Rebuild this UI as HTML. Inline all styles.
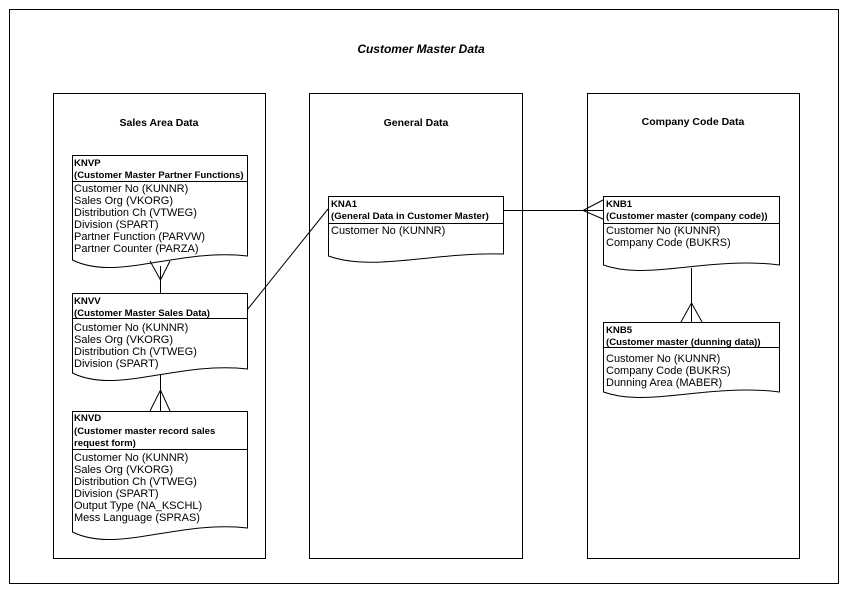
<!DOCTYPE html>
<html><head><meta charset="utf-8"><style>
body{margin:0;background:#fff}
svg text{font-family:"Liberation Sans",Arial,sans-serif;font-size:11px;fill:#000}
.b{font-weight:bold;font-size:9.6px}
.h{font-weight:bold;font-size:10.5px}
</style></head><body>
<svg width="848" height="590" viewBox="0 0 848 590" xmlns="http://www.w3.org/2000/svg">
<g fill="none" stroke="#000" stroke-width="1">
<rect x="9.5" y="9.5" width="829" height="574"/>
<rect x="53.5" y="93.5" width="212" height="465"/>
<rect x="309.5" y="93.5" width="213" height="465"/>
<rect x="587.5" y="93.5" width="212" height="465"/>
<rect x="72.5" y="155.5" width="175" height="26"/>
<path d="M72.5,181.5 V260 C117,282 177,248 247.5,256 V181.5"/>
<rect x="72.5" y="293.5" width="175" height="25"/>
<path d="M72.5,318.5 V373 C117,395 177,361 247.5,369 V318.5"/>
<rect x="72.5" y="411.5" width="175" height="38"/>
<path d="M72.5,449.5 V532 C117,554 177,520 247.5,528 V449.5"/>
<rect x="328.5" y="196.5" width="175" height="27"/>
<path d="M328.5,223.5 V256 C373,272 433,252 503.5,254 V223.5"/>
<rect x="603.5" y="196.5" width="176" height="27"/>
<path d="M603.5,223.5 V265 C648,281 708,256 779.5,265 V223.5"/>
<rect x="603.5" y="322.5" width="176" height="25"/>
<path d="M603.5,347.5 V392 C648,408 708,383 779.5,392 V347.5"/>
<path d="M160.5,266 V293 M150,261 L160.5,280 L170,261"/>
<path d="M160.5,375 V411 M150,411 L160.5,390 L170,411"/>
<path d="M247,310 L328,209"/>
<path d="M503.5,210.5 H603 M603,200 L583,210.5 L603,219"/>
<path d="M691.5,268 V322 M681,322 L691.5,303 L702,322"/>
</g>
<text x="421" y="53" text-anchor="middle" style="font-style:italic;font-weight:bold;font-size:12px">Customer Master Data</text>
<text x="159" y="126" text-anchor="middle" class="h">Sales Area Data</text>
<text x="416" y="126" text-anchor="middle" class="h">General Data</text>
<text x="693" y="125" text-anchor="middle" class="h">Company Code Data</text>

<text x="74" y="166" class="b">KNVP</text>
<text x="74" y="178" class="b">(Customer Master Partner Functions)</text>
<text x="74" y="192">Customer No (KUNNR)</text>
<text x="74" y="204">Sales Org (VKORG)</text>
<text x="74" y="216">Distribution Ch (VTWEG)</text>
<text x="74" y="228">Division (SPART)</text>
<text x="74" y="240">Partner Function (PARVW)</text>
<text x="74" y="252">Partner Counter (PARZA)</text>

<text x="74" y="304" class="b">KNVV</text>
<text x="74" y="316" class="b">(Customer Master Sales Data)</text>
<text x="74" y="331">Customer No (KUNNR)</text>
<text x="74" y="343">Sales Org (VKORG)</text>
<text x="74" y="355">Distribution Ch (VTWEG)</text>
<text x="74" y="367">Division (SPART)</text>

<text x="74" y="421" class="b">KNVD</text>
<text x="74" y="434" class="b">(Customer master record sales</text>
<text x="74" y="446" class="b">request form)</text>
<text x="74" y="461">Customer No (KUNNR)</text>
<text x="74" y="473">Sales Org (VKORG)</text>
<text x="74" y="485">Distribution Ch (VTWEG)</text>
<text x="74" y="497">Division (SPART)</text>
<text x="74" y="509">Output Type (NA_KSCHL)</text>
<text x="74" y="521">Mess Language (SPRAS)</text>

<text x="331" y="207" class="b">KNA1</text>
<text x="331" y="219" class="b">(General Data in Customer Master)</text>
<text x="331" y="234">Customer No (KUNNR)</text>

<text x="606" y="207" class="b">KNB1</text>
<text x="606" y="219" class="b">(Customer master (company code))</text>
<text x="606" y="234">Customer No (KUNNR)</text>
<text x="606" y="246">Company Code (BUKRS)</text>

<text x="606" y="333" class="b">KNB5</text>
<text x="606" y="345" class="b">(Customer master (dunning data))</text>
<text x="606" y="362">Customer No (KUNNR)</text>
<text x="606" y="374">Company Code (BUKRS)</text>
<text x="606" y="386">Dunning Area (MABER)</text>
</svg>
</body></html>
